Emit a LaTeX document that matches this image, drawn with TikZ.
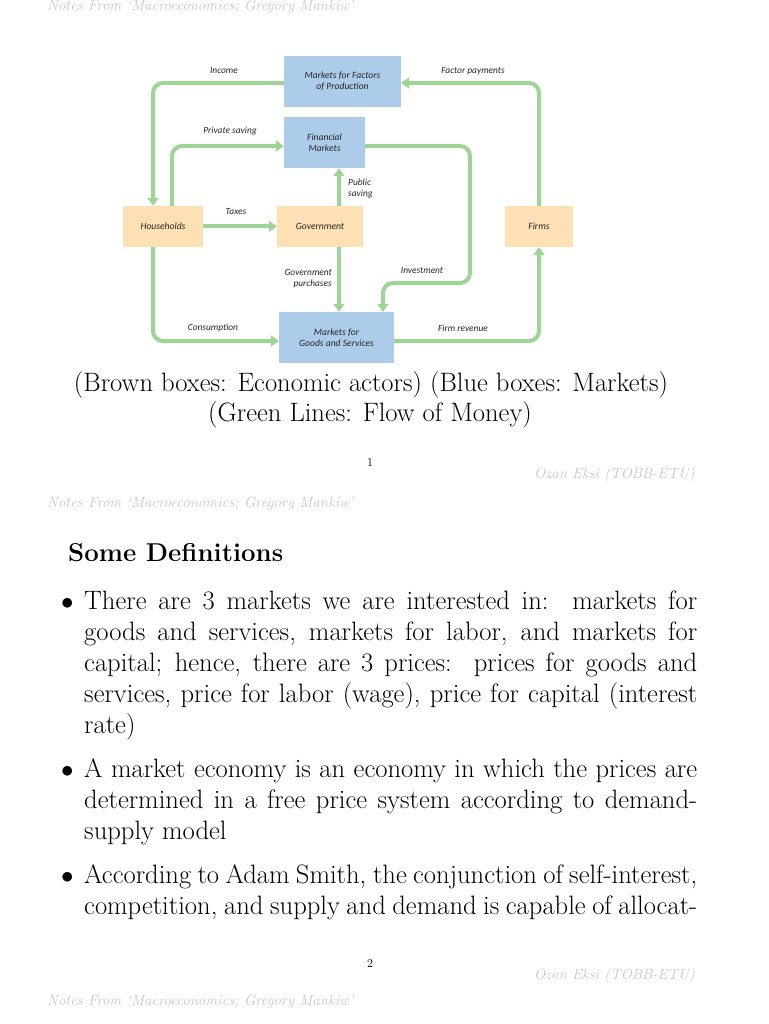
\documentclass[tikz,border=0pt]{standalone}
\usepackage{fontspec}
\newfontfamily\diagfont{Carlito}
\usetikzlibrary{arrows.meta}
\definecolor{boxblue}{RGB}{172,204,234}
\definecolor{boxpeach}{RGB}{253,225,180}
\definecolor{flowgreen}{RGB}{158,212,150}
\definecolor{hdrgray}{RGB}{200,200,200}
\begin{document}
\begin{tikzpicture}[x=1pt,y=-1pt,
  box/.style={inner sep=0pt, font=\diagfont\itshape\fontsize{9.6}{11}\selectfont, align=center, text=black!85},
  market/.style={box, fill=boxblue},
  actor/.style={box, fill=boxpeach},
  flow/.style={draw=flowgreen, line width=4pt, rounded corners=10pt, -{Triangle[length=8pt,width=11pt]}},
  lbl/.style={font=\diagfont\itshape\fontsize{9.4}{11}\selectfont, inner sep=0pt, text=black!85},
  hdr/.style={font=\itshape\fontsize{14.9}{17}\selectfont, text=hdrgray, inner sep=0pt},
  body/.style={font=\fontsize{26.6}{31}\selectfont, inner sep=0pt},
  pnum/.style={font=\fontsize{12}{14}\selectfont, inner sep=0pt},
]
\useasboundingbox (0,0) rectangle (768,1024);

% ---------- page 1 ----------
\node[hdr, anchor=base west] (h1) at (47,11) {Notes From ‘Macroeconomics; Gregory Mankiw’};

\node[market, minimum width=117pt, minimum height=51pt] (fac) at (342.5,81.5) {Markets for Factors\\of Production};
\node[market, minimum width=81pt, minimum height=51pt] (fin) at (324.5,142.5) {Financial\\Markets};
\node[actor, minimum width=80pt, minimum height=41pt] (hh) at (163,226.5) {Households};
\node[actor, minimum width=86pt, minimum height=41pt] (gov) at (320,226.5) {Government};
\node[actor, minimum width=68pt, minimum height=41pt] (firms) at (539,226.5) {Firms};
\node[market, minimum width=115pt, minimum height=51pt] (goods) at (336.5,337.5) {Markets for\\Goods and Services};

\coordinate (ps) at (339,0);
\coordinate (inv) at (470,283);

\draw[flow] ([yshift=-1.5pt]fac.west) -| ([xshift=-10pt]hh.north);
\draw[flow] (firms.north) |- ([yshift=-1.5pt]fac.east);
\draw[flow] ([xshift=9pt]hh.north) |- ([yshift=-3.5pt]fin.west);
\draw[flow] ([yshift=-3.5pt]fin.east) -| (inv) -| ([xshift=46.5pt]goods.north);
\draw[flow] (gov.north -| ps) -- (fin.south -| ps);
\draw[flow] (hh.east) -- (gov.west);
\draw[flow] (gov.south -| ps) -- (goods.north -| ps);
\draw[flow] ([xshift=-10pt]hh.south) |- ([yshift=-3.5pt]goods.west);
\draw[flow] ([yshift=-3.5pt]goods.east) -| (firms.south);

\node[lbl] (lincome) at (224,71) {Income};
\node[lbl] (lfactor) at (473,71) {Factor payments};
\node[lbl] (lpriv) at (230,131) {Private saving};
\node[lbl, anchor=west, align=left] (lpub) at (348,189) {Public\\saving};
\node[lbl] (ltax) at (236,212) {Taxes};
\node[lbl, anchor=east, align=right] (lgp) at (332,278.5) {Government\\purchases};
\node[lbl] (linv) at (422,271) {Investment};
\node[lbl] (lcons) at (213,328) {Consumption};
\node[lbl] (lrev) at (463,328) {Firm revenue};

\node[body, anchor=base] (cap1) at (371,391) {(Brown boxes: Economic actors) (Blue boxes: Markets)};
\node[body, anchor=base] (cap2) at (370,421) {(Green Lines: Flow of Money)};

\node[pnum, anchor=base] (p1) at (370,466) {1};
\node[hdr, anchor=base east] (f1) at (695,478) {Ozan Eksi (TOBB-ETU)};

% ---------- page 2 ----------
\node[hdr, anchor=base west] (h2) at (47,507) {Notes From ‘Macroeconomics; Gregory Mankiw’};
\node[body, anchor=base west, font=\bfseries\fontsize{25.8}{31}\selectfont] (sd) at (68,561) {Some Definitions};

\node[body, anchor=base west] (bu1) at (61,609) {$\bullet$};
\node[body, anchor=base west] (t1) at (84,609) {\parbox[t]{613pt}{%
\makebox[613pt][s]{There are 3 markets we are interested in:\ \ markets for}\\
\makebox[613pt][s]{goods and services, markets for labor, and markets for}\\
\makebox[613pt][s]{capital; hence, there are 3 prices:\ \ prices for goods and}\\
\makebox[613pt][s]{services, price for labor (wage), price for capital (interest}\\
rate)}};

\node[body, anchor=base west] (bu2) at (61,777) {$\bullet$};
\node[body, anchor=base west] (t2) at (84,777) {\parbox[t]{613pt}{%
\makebox[613pt][s]{A market economy is an economy in which the prices are}\\
\makebox[613pt][s]{determined in a free price system according to demand-}\\
supply model}};

\node[body, anchor=base west] (bu3) at (61,883) {$\bullet$};
\node[body, anchor=base west] (t3) at (84,883) {\parbox[t]{613pt}{%
\makebox[613pt][s]{According to Adam Smith, the conjunction of self-interest,}\\
\makebox[613pt][s]{competition, and supply and demand is capable of allocat-}}};

\node[pnum, anchor=base] (p2) at (370,967) {2};
\node[hdr, anchor=base east] (f2) at (695,979) {Ozan Eksi (TOBB-ETU)};

% ---------- page 3 ----------
\node[hdr, anchor=base west] (h3) at (47,1005) {Notes From ‘Macroeconomics; Gregory Mankiw’};
\end{tikzpicture}
\end{document}
